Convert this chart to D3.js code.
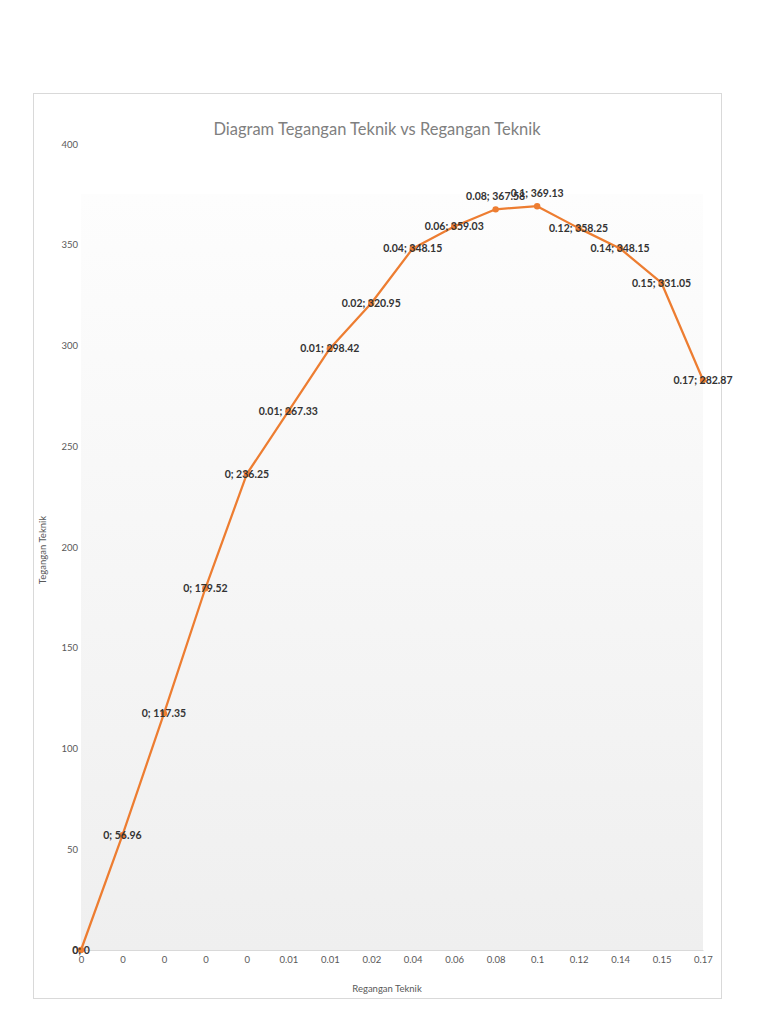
<!DOCTYPE html>
<html>
<head>
<meta charset="utf-8">
<script src="https://cdnjs.cloudflare.com/ajax/libs/d3/7.8.5/d3.min.js"></script>
<style>
  body { margin: 0; background: #fff; }
  svg { font-family: Lato, "Open Sans", sans-serif; }
</style>
</head>
<body>
<svg id="chart" width="768" height="1024"></svg>
<script>
// strain labels (category axis) and stress values
var strainLabels = ['0', '0', '0', '0', '0', '0.01', '0.01', '0.02', '0.04', '0.06', '0.08', '0.1', '0.12', '0.14', '0.15', '0.17'];
var stressValues = [0, 56.96, 117.35, 179.52, 236.25, 267.33, 298.42, 320.95, 348.15, 359.03, 367.58, 369.13, 358.25, 348.15, 331.05, 282.87];
var yTicks = [0, 50, 100, 150, 200, 250, 300, 350, 400];
// points whose data label sits above the marker instead of centred on it
var labelAbove = [10, 11];

var svg = d3.select('#chart');

// chart frame
svg.append('rect')
  .attr('x', 33.5).attr('y', 93.5)
  .attr('width', 688).attr('height', 905)
  .attr('fill', '#fff')
  .attr('stroke', '#d9d9d9');

var defs = svg.append('defs');
var grad = defs.append('linearGradient')
  .attr('id', 'bg').attr('x1', 0).attr('y1', 0).attr('x2', 0).attr('y2', 1);
grad.append('stop').attr('offset', '0%').attr('stop-color', '#fdfdfd');
grad.append('stop').attr('offset', '100%').attr('stop-color', '#efefef');

var plotLeft = 81, plotRight = 703, plotTop = 144, plotBottom = 950;

var x = d3.scalePoint()
  .domain(d3.range(strainLabels.length))
  .range([plotLeft, plotRight]);

var y = d3.scaleLinear()
  .domain([0, 400])
  .range([plotBottom, plotTop]);

// plot area background
svg.append('rect')
  .attr('x', plotLeft).attr('y', 194)
  .attr('width', plotRight - plotLeft).attr('height', plotBottom - 194)
  .attr('fill', 'url(#bg)');

// title
svg.append('text')
  .attr('x', 377).attr('y', 135)
  .attr('text-anchor', 'middle')
  .attr('font-size', 16.5)
  .attr('fill', '#7f7f7f')
  .text('Diagram Tegangan Teknik vs Regangan Teknik');

// y axis (labels only)
var yAxis = svg.append('g')
  .attr('transform', `translate(${plotLeft - 3},0)`)
  .call(d3.axisLeft(y).tickValues(yTicks).tickSize(0).tickPadding(0));
yAxis.select('.domain').remove();
yAxis.selectAll('text')
  .attr('font-size', 9.5)
  .attr('font-family', 'Lato, sans-serif')
  .attr('fill', '#595959');

// x axis
var xAxis = svg.append('g')
  .attr('transform', `translate(0,${plotBottom})`)
  .call(d3.axisBottom(x).tickFormat(i => strainLabels[i]).tickSize(0).tickPadding(6));
xAxis.select('.domain').attr('stroke', '#d9d9d9');
xAxis.selectAll('text')
  .attr('font-size', 9.5)
  .attr('font-family', 'Lato, sans-serif')
  .attr('fill', '#595959');

// axis titles
svg.append('text')
  .attr('transform', 'translate(46,550) rotate(-90)')
  .attr('text-anchor', 'middle')
  .attr('font-size', 9.5)
  .attr('fill', '#595959')
  .text('Tegangan Teknik');

svg.append('text')
  .attr('x', 387).attr('y', 992)
  .attr('text-anchor', 'middle')
  .attr('font-size', 9.5)
  .attr('fill', '#595959')
  .text('Regangan Teknik');

// line
var line = d3.line()
  .x((d, i) => x(i))
  .y(d => y(d));

svg.append('path')
  .datum(stressValues)
  .attr('fill', 'none')
  .attr('stroke', '#ed7d31')
  .attr('stroke-width', 2.25)
  .attr('stroke-linejoin', 'round')
  .attr('d', line);

svg.selectAll('.marker')
  .data(stressValues)
  .join('circle')
  .classed('marker', true)
  .attr('cx', (d, i) => x(i))
  .attr('cy', d => y(d))
  .attr('r', 3.2)
  .attr('fill', '#ed7d31');

// data labels
svg.selectAll('.dlabel')
  .data(stressValues)
  .join('text')
  .classed('dlabel', true)
  .attr('x', (d, i) => x(i))
  .attr('y', (d, i) => labelAbove.includes(i) ? y(d) - 13 : y(d))
  .attr('dy', '0.35em')
  .attr('text-anchor', 'middle')
  .attr('font-size', 10.5)
  .attr('font-weight', 'bold')
  .attr('fill', '#333')
  .text((d, i) => strainLabels[i] + '; ' + d);
</script>
</body>
</html>
